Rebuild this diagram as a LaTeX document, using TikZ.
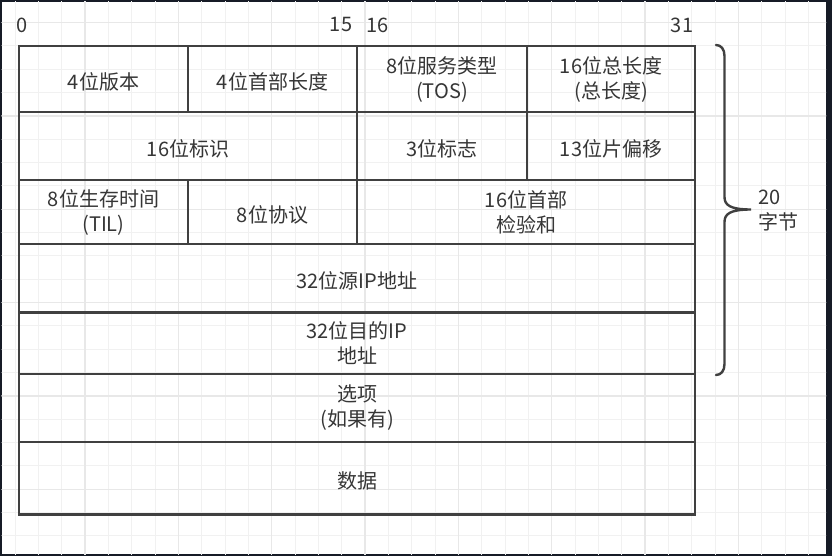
\documentclass[tikz,border=0pt]{standalone}
\usepackage{fontspec}
\setmainfont{Noto Sans CJK SC}
\definecolor{framec}{HTML}{161B26}
\definecolor{gridminor}{HTML}{F1F1F1}
\definecolor{gridmajor}{HTML}{E8E8E8}
\definecolor{linec}{HTML}{404040}
\definecolor{textc}{HTML}{363636}
\begin{document}
\begin{tikzpicture}[x=1pt,y=-1pt,
  cellbox/.style={draw=linec, line width=2.2pt, inner sep=0pt, align=center,
    text=textc, font=\fontsize{20}{25}\selectfont,
    execute at begin node={\rule{0pt}{22pt}}},
  lbl/.style={inner sep=0pt, text=textc, font=\fontsize{20}{25}\selectfont},
  bracec/.style={draw=linec, line width=2.4pt, line cap=round}]
\useasboundingbox (0,0) rectangle (832,556);
\fill[framec] (0,0) rectangle (832,556);
\fill[white] (1.5,2) rectangle (826,554);
\begin{scope}
\clip (1.5,2) rectangle (826,554);
\foreach \k in {0,...,36}{
  \pgfmathsetmacro{\xx}{-8.333+23.333*\k}
  \draw[gridminor, line width=1pt] (\xx,0) -- (\xx,556);
}
\foreach \k in {0,...,24}{
  \pgfmathsetmacro{\yy}{-0.667+23.333*\k}
  \draw[gridminor, line width=1pt] (0,\yy) -- (832,\yy);
}
\foreach \k in {0,...,9}{
  \pgfmathsetmacro{\xx}{-8.333+93.333*\k}
  \draw[gridmajor, line width=1.4pt] (\xx,0) -- (\xx,556);
}
\foreach \k in {0,...,6}{
  \pgfmathsetmacro{\yy}{22.667+93.333*\k}
  \draw[gridmajor, line width=1.4pt] (0,\yy) -- (832,\yy);
}
\end{scope}
% bit labels
\node[lbl] (b0) at (22,25) {0};
\node[lbl] (b15) at (341,25) {15};
\node[lbl] (b16) at (377.5,25) {16};
\node[lbl] (b31) at (682,25) {31};
% row 1
\node[cellbox, minimum width=169pt, minimum height=66pt] (ver) at (103.5,79) {4位版本};
\node[cellbox, minimum width=169pt, minimum height=66pt] (ihl) at (272.5,79) {4位首部长度};
\node[cellbox, minimum width=170pt, minimum height=66pt] (tos) at (442,79) {8位服务类型\\(TOS)};
\node[cellbox, minimum width=168pt, minimum height=66pt] (len) at (611,79) {16位总长度\\(总长度)};
% row 2
\node[cellbox, minimum width=338pt, minimum height=68pt] (id) at (188,146) {16位标识};
\node[cellbox, minimum width=170pt, minimum height=68pt] (flag) at (442,146) {3位标志};
\node[cellbox, minimum width=168pt, minimum height=68pt] (off) at (611,146) {13位片偏移};
% row 3
\node[cellbox, minimum width=169pt, minimum height=64pt] (ttl) at (103.5,212) {8位生存时间\\(TIL)};
\node[cellbox, minimum width=169pt, minimum height=64pt] (proto) at (272.5,212) {8位协议};
\node[cellbox, minimum width=338pt, minimum height=64pt] (csum) at (526,212) {16位首部\\检验和};
% full rows
\node[cellbox, minimum width=676pt, minimum height=68.5pt] (src) at (357,278.25) {32位源IP地址};
\node[cellbox, minimum width=676pt, minimum height=61.5pt] (dst) at (357,343.25) {32位目的IP\\地址};
\node[cellbox, minimum width=676pt, minimum height=68pt] (opt) at (357,408) {选项\\(如果有)};
\node[cellbox, minimum width=676pt, minimum height=72.5pt] (data) at (357,478.25) {数据};
% brace
\coordinate (btop) at (716,45);
\coordinate (btip) at (751,209.5);
\coordinate (bbot) at (716,375);
\draw[bracec] (btop) .. controls (721,45) and (724.5,49) .. (724.5,56) -- (724.5,197)
  .. controls (724.5,205) and (730,209.5) .. (btip)
  .. controls (730,209.5) and (724.5,214) .. (724.5,222) -- (724.5,364)
  .. controls (724.5,371) and (721,375) .. (bbot);
\node[lbl, anchor=west, align=left] (bytes) at (758,211) {20\\字节};
\end{tikzpicture}
\end{document}
